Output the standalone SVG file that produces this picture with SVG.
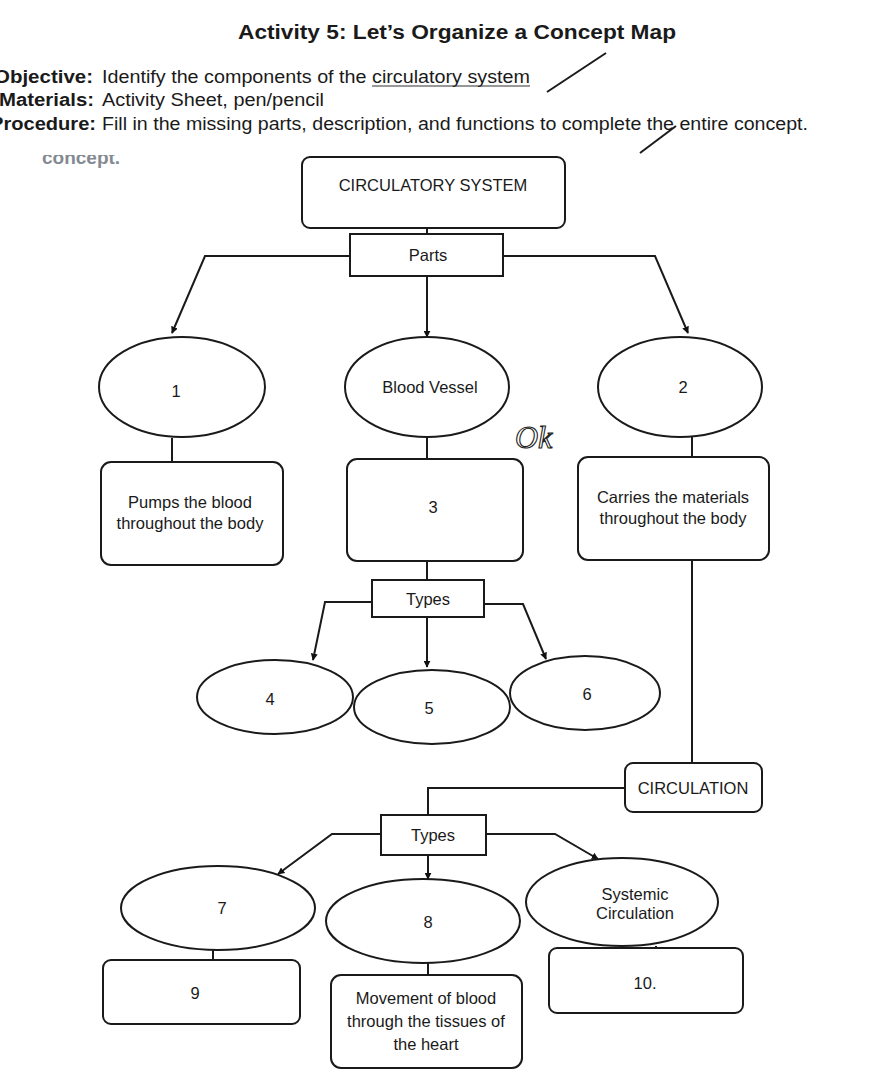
<svg xmlns="http://www.w3.org/2000/svg" width="882" height="1080" viewBox="0 0 882 1080">
<defs>
<marker id="ah" viewBox="0 0 10 10" refX="9" refY="5" markerWidth="7" markerHeight="7" orient="auto" markerUnits="userSpaceOnUse">
<path d="M0,0 L10,5 L0,10 z" fill="#111"/>
</marker>
<style>
.n{fill:#fff;stroke:#1a1a1a;stroke-width:2}
.c{fill:none;stroke:#1a1a1a;stroke-width:2}
.t{font-family:"Liberation Sans",Arial,sans-serif;font-size:16.5px;fill:#1a1a1a;text-anchor:middle}
.h{font-family:"Liberation Sans",Arial,sans-serif;font-size:17.5px;fill:#1a1a1a}
.hb{font-family:"Liberation Sans",Arial,sans-serif;font-size:17.5px;font-weight:bold;fill:#1a1a1a}
</style>
</defs>
<rect width="882" height="1080" fill="#fff"/>
<g id="header">
<text x="457" y="39" text-anchor="middle" font-family="Liberation Sans,Arial,sans-serif" font-weight="bold" font-size="20" fill="#1a1a1a" textLength="438" lengthAdjust="spacingAndGlyphs">Activity 5: Let’s Organize a Concept Map</text>
<text class="hb" x="-6" y="83" textLength="99" lengthAdjust="spacingAndGlyphs">Objective:</text>
<text class="h" x="102" y="83" textLength="428" lengthAdjust="spacingAndGlyphs">Identify the components of the circulatory system</text>
<line x1="372" y1="86" x2="530" y2="86" stroke="#333" stroke-width="1.2"/>
<text class="hb" x="-1" y="106" textLength="95" lengthAdjust="spacingAndGlyphs">Materials:</text>
<text class="h" x="102" y="106" textLength="222" lengthAdjust="spacingAndGlyphs">Activity Sheet, pen/pencil</text>
<text class="hb" x="-10" y="130" textLength="106" lengthAdjust="spacingAndGlyphs">Procedure:</text>
<text class="h" x="102" y="130" textLength="706" lengthAdjust="spacingAndGlyphs">Fill in the missing parts, description, and functions to complete the entire concept.</text>
<path d="M547,92 L606,53" class="c" stroke-width="1.5"/>
<path d="M640,153 L676,126" class="c" stroke-width="1.5"/>
<text x="42" y="164" font-family="Liberation Sans,Arial,sans-serif" font-weight="bold" font-size="19" fill="#6f7680" opacity="0.85">concept.</text>
<rect x="30" y="138" width="120" height="17" fill="#fff"/>
<text x="515" y="448" font-family="Liberation Serif,serif" font-style="italic" font-size="32" fill="none" stroke="#222" stroke-width="1.1">Ok</text>
</g>
<g id="connectors">
<path class="c" d="M427,228 V234"/>
<path class="c" d="M350,256 H205 L172,333" marker-end="url(#ah)"/>
<path class="c" d="M503,256 H655 L688,333" marker-end="url(#ah)"/>
<path class="c" d="M427,276 V337" marker-end="url(#ah)"/>
<path class="c" d="M172,438 V462"/>
<path class="c" d="M427,437 V459"/>
<path class="c" d="M692,436 V457"/>
<path class="c" d="M427,561 V580"/>
<path class="c" d="M372,602 H325 L313,660" marker-end="url(#ah)"/>
<path class="c" d="M484,604 H523 L546,659" marker-end="url(#ah)"/>
<path class="c" d="M427,617 V667" marker-end="url(#ah)"/>
<path class="c" d="M692,560 V763"/>
<path class="c" d="M625,788 H428 V815"/>
<path class="c" d="M381,834 H332 L278,874" marker-end="url(#ah)"/>
<path class="c" d="M486,834 H555 L598,859" marker-end="url(#ah)"/>
<path class="c" d="M428,855 V879" marker-end="url(#ah)"/>
<path class="c" d="M213,950 V961"/>
<path class="c" d="M428,963 V976"/>
<path class="c" d="M656,946 V952"/>
</g>
<g id="n-circulatory-system">
<rect class="n" x="302" y="157" width="263" height="71" rx="8"/>
<text class="t" x="433" y="191">CIRCULATORY SYSTEM</text>
</g>
<g id="n-parts">
<rect class="n" x="350" y="234" width="153" height="42"/>
<text class="t" x="428" y="261">Parts</text>
</g>
<g id="n-1">
<ellipse class="n" cx="182" cy="387" rx="83" ry="50"/>
<text class="t" x="176" y="397">1</text>
</g>
<g id="n-blood-vessel">
<ellipse class="n" cx="427" cy="387" rx="82" ry="50"/>
<text class="t" x="430" y="393">Blood Vessel</text>
</g>
<g id="n-2">
<ellipse class="n" cx="680" cy="387" rx="82" ry="50"/>
<text class="t" x="683" y="393">2</text>
</g>
<g id="n-pumps">
<rect class="n" x="101" y="462" width="182" height="103" rx="10"/>
<text class="t" x="190" y="508">Pumps the blood</text>
<text class="t" x="190" y="529">throughout the body</text>
</g>
<g id="n-3">
<rect class="n" x="347" y="459" width="176" height="102" rx="10"/>
<text class="t" x="433" y="513">3</text>
</g>
<g id="n-carries">
<rect class="n" x="578" y="457" width="191" height="103" rx="10"/>
<text class="t" x="673" y="503">Carries the materials</text>
<text class="t" x="673" y="524">throughout the body</text>
</g>
<g id="n-types-1">
<rect class="n" x="372" y="580" width="112" height="37"/>
<text class="t" x="428" y="605">Types</text>
</g>
<g id="n-4">
<ellipse class="n" cx="275" cy="697" rx="78" ry="37"/>
<text class="t" x="270" y="705">4</text>
</g>
<g id="n-5">
<ellipse class="n" cx="432" cy="707" rx="78" ry="37"/>
<text class="t" x="429" y="714">5</text>
</g>
<g id="n-6">
<ellipse class="n" cx="585" cy="693" rx="75" ry="37"/>
<text class="t" x="587" y="700">6</text>
</g>
<g id="n-circulation">
<rect class="n" x="625" y="763" width="137" height="49" rx="8"/>
<text class="t" x="693" y="794">CIRCULATION</text>
</g>
<g id="n-types-2">
<rect class="n" x="381" y="815" width="105" height="40"/>
<text class="t" x="433" y="841">Types</text>
</g>
<g id="n-7">
<ellipse class="n" cx="218" cy="908" rx="97" ry="42"/>
<text class="t" x="222" y="914">7</text>
</g>
<g id="n-8">
<ellipse class="n" cx="423" cy="921" rx="97" ry="42"/>
<text class="t" x="428" y="928">8</text>
</g>
<g id="n-systemic">
<ellipse class="n" cx="622" cy="902" rx="96" ry="44"/>
<text class="t" x="635" y="900">Systemic</text>
<text class="t" x="635" y="919">Circulation</text>
</g>
<g id="n-9">
<rect class="n" x="103" y="960" width="197" height="64" rx="8"/>
<text class="t" x="195" y="999">9</text>
</g>
<g id="n-movement">
<rect class="n" x="331" y="975" width="191" height="93" rx="10"/>
<text class="t" x="426" y="1004">Movement of blood</text>
<text class="t" x="426" y="1027">through the tissues of</text>
<text class="t" x="426" y="1050">the heart</text>
</g>
<g id="n-10">
<rect class="n" x="549" y="948" width="194" height="65" rx="8"/>
<text class="t" x="645" y="989">10.</text>
</g>
</svg>
